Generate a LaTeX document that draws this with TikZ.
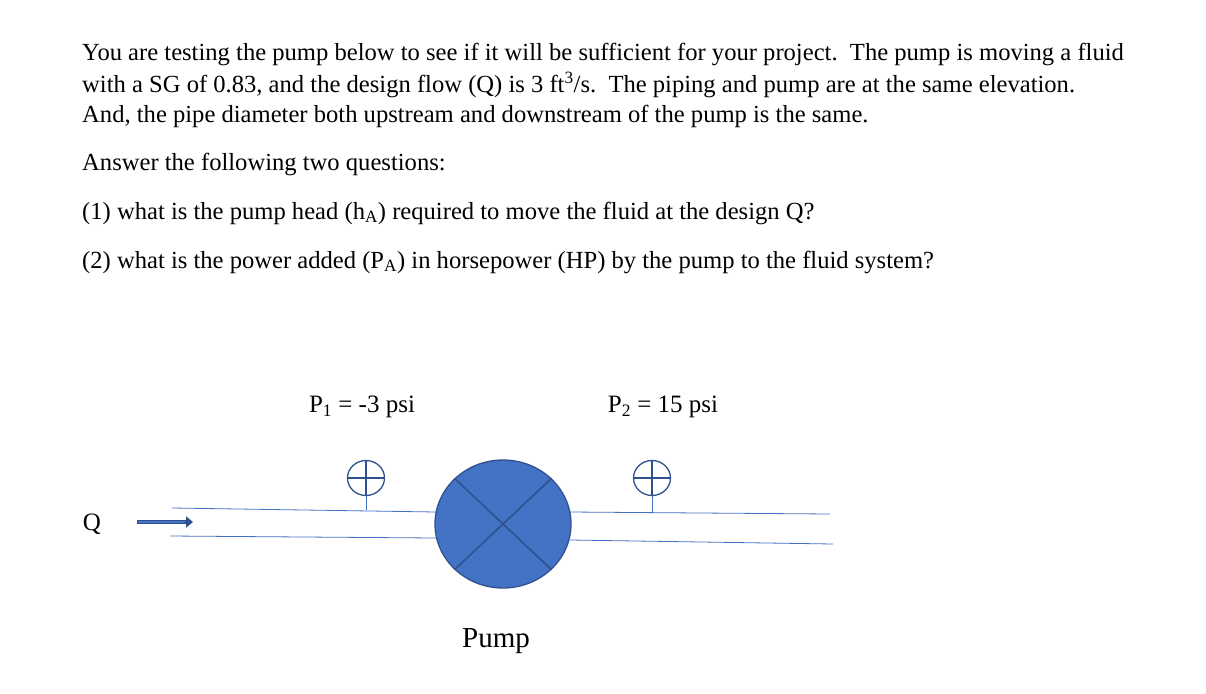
\documentclass[tikz,border=0pt]{standalone}
\usepackage{fontspec}
\usetikzlibrary{shapes.geometric,arrows.meta}
\setmainfont{Liberation Serif}
\definecolor{accent}{HTML}{4472C4}
\definecolor{darkacc}{HTML}{2F528F}
\begin{document}
\begin{tikzpicture}[x=1pt,y=-1pt,
  txt/.style={anchor=west,inner sep=0pt,font=\fontsize{24.6}{28}\selectfont},
  lbl/.style={inner sep=0pt,font=\fontsize{25}{28}\selectfont},
  pipe/.style={draw=accent,line width=0.8pt},
  gauge/.style={draw=darkacc,line width=1.3pt}]
\useasboundingbox (0,0) rectangle (1206,693);
\node[txt] (t1) at (82,54) {You are testing the pump below to see if it will be sufficient for your project.\ \ The pump is moving a fluid};
\node[txt] (t2) at (82,85) {with a SG of 0.83, and the design flow (Q) is 3 ft\textsuperscript{3}/s.\ \ The piping and pump are at the same elevation.};
\node[txt] (t3) at (82,116) {And, the pipe diameter both upstream and downstream of the pump is the same.};
\node[txt] (t4) at (82,164) {Answer the following two questions:};
\node[txt] (t5) at (82,213) {(1) what is the pump head (h\textsubscript{A}) required to move the fluid at the design Q?};
\node[txt] (t6) at (82,262) {(2) what is the power added (P\textsubscript{A}) in horsepower (HP) by the pump to the fluid system?};
\node[lbl] (p1) at (362,407) {P\textsubscript{1} = -3 psi};
\node[lbl] (p2) at (663,407) {P\textsubscript{2} = 15 psi};
\node[lbl] (q) at (92,524) {Q};
\node[lbl,font=\fontsize{29}{30}\selectfont] (pl) at (496,641) {Pump};
\draw[pipe] (172,508) -- (436,512);
\draw[pipe] (170,536) -- (436,538);
\draw[pipe] (570,512) -- (830,514);
\draw[pipe] (570,540) -- (833,544);
\draw[pipe] (366,478) -- (366,510);
\draw[pipe] (652,478) -- (652,512);
\node[gauge,ellipse,draw,fill=white,minimum width=37pt,minimum height=35pt,inner sep=0pt] (g1) at (366,478) {};
\draw[gauge] (g1.north) -- (g1.south) (g1.west) -- (g1.east);
\node[gauge,ellipse,draw,fill=white,minimum width=37pt,minimum height=35pt,inner sep=0pt] (g2) at (652,478) {};
\draw[gauge] (g2.north) -- (g2.south) (g2.west) -- (g2.east);
\node[ellipse,draw=darkacc,fill=accent,line width=1.3pt,minimum width=136pt,minimum height=128pt,inner sep=0pt] (pump) at (503,524) {};
\draw[line width=1.6pt,draw=darkacc] (pump.north west) -- (pump.south east) (pump.north east) -- (pump.south west);
\coordinate (a1) at (137,522); \coordinate (a2) at (193,522);
\draw[line width=4.5pt,draw=darkacc,-{Triangle[length=7pt,width=11pt]}] (a1) -- (a2);
\draw[line width=2.2pt,draw=accent] (138,522) -- (185,522);
\end{tikzpicture}
\end{document}
